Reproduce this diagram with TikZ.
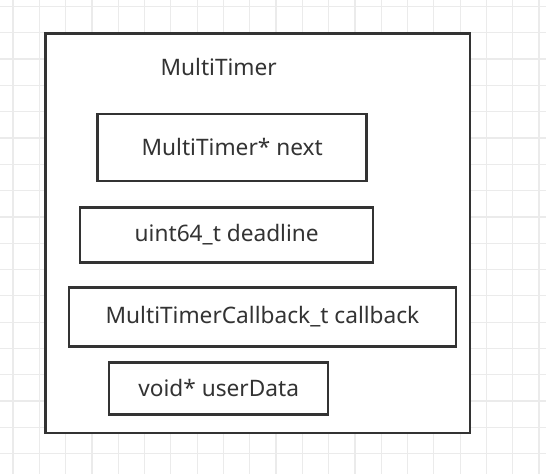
\documentclass[tikz,border=0pt]{standalone}
\usepackage{fontspec}
\setmainfont{Noto Sans}
\usepackage{xcolor}
\usepackage{tikz}
\usetikzlibrary{positioning}
\definecolor{boxline}{HTML}{333333}
\definecolor{gridgray}{HTML}{EBEBEB}
\tikzset{
  gridline/.style = {draw=gridgray, line width=0.9pt},
  structbox/.style = {rectangle, draw=boxline, line width=1.9pt, fill=white,
    text=boxline, font=\fontsize{17}{20}\selectfont, inner sep=0pt},
  fieldbox/.style = {structbox, line width=1.9pt}
}
\begin{document}
\begin{tikzpicture}[x=0.75pt,y=-0.75pt]
\useasboundingbox (0,0) rectangle (546,474);
\fill[white] (0,0) rectangle (546,474);
\foreach \i in {0,...,20}
  \draw[gridline] ({13+26.3*\i},0) -- ({13+26.3*\i},474);
\foreach \j in {0,...,17}
  \draw[gridline] (0,{6.5+26.3*\j}) -- (546,{6.5+26.3*\j});

\node [structbox, minimum width=318.4pt, minimum height=299.5pt] (timer) at (257.75,233.35) {};
\node [text=boxline, font=\fontsize{17}{20}\selectfont] (title) at (218.7,67) {MultiTimer};

\node [fieldbox, minimum width=201.75pt, minimum height=50.25pt] (next) at (232.2,147.5) {MultiTimer* next};
\node [fieldbox, minimum width=219.75pt, minimum height=41.25pt] (deadline) at (226.7,234.8) {uint64\_t deadline};
\node [fieldbox, minimum width=290.25pt, minimum height=44.55pt] (callback) at (262.5,317) {MultiTimerCallback\_t callback};
\node [fieldbox, minimum width=164.25pt, minimum height=39pt] (userdata) at (218.7,388.3) {void* userData};
\end{tikzpicture}
\end{document}
